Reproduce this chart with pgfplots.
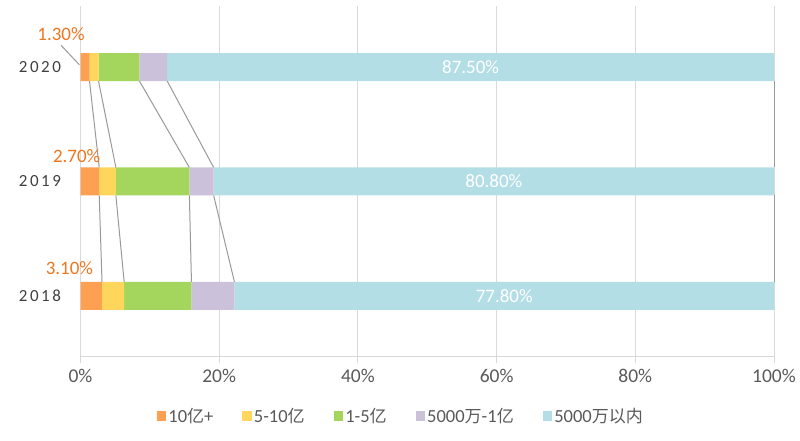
\documentclass[border=0pt]{standalone}
\usepackage{pgfplots}
\pgfplotsset{compat=1.18}
\usepackage{fontspec}
\setmainfont{Carlito}
\newfontfamily\cjk[Scale=0.92]{Noto Sans CJK SC}
\newfontfamily\yfont[LetterSpace=15]{Carlito}
\definecolor{c1}{HTML}{FDA052}
\definecolor{c2}{HTML}{FFD65C}
\definecolor{c3}{HTML}{A4D55C}
\definecolor{c4}{HTML}{CBC1DB}
\definecolor{c5}{HTML}{B4DEE6}
\definecolor{lab}{HTML}{EE7720}
\definecolor{gridc}{HTML}{D9D9D9}
\definecolor{txt}{HTML}{595959}
\definecolor{sl}{HTML}{999999}
\begin{document}
\begin{tikzpicture}
\begin{axis}[
  at={(80.5pt,84pt)}, anchor=south west,
  scale only axis, width=693.5pt, height=351pt,
  xbar stacked, bar width=28pt,
  xmin=0, xmax=100, ymin=-0.533, ymax=2.533,
  ytick={0,1,2}, yticklabels={2018,2019,2020},
  xtick={0,20,...,100},
  xticklabel={\pgfmathprintnumber{\tick}\%},
  /pgf/number format/assume math mode=true,
  xticklabel style={font=\fontsize{19.5}{22}\selectfont, text=txt, yshift=-3pt},
  yticklabel style={font=\yfont\fontsize{17}{20}\selectfont, text=black!75, xshift=-10pt},
  axis x line*=bottom, axis y line*=left,
  x axis line style={gridc, line width=1pt, -},
  y axis line style={draw=none},
  xmajorgrids, grid style={gridc, line width=1pt},
  x tick style={gridc, line width=1pt},
  y tick style={draw=none},
  tick align=outside, major tick length=6pt,
  legend columns=5,
  legend style={at={(0.462,-0.168)}, anchor=center, draw=none, fill=none,
    font=\fontsize{18.5}{21}\selectfont, text=txt,
    /tikz/every even column/.append style={column sep=27pt}},
  legend image code/.code={\fill[#1] (0pt,-4.75pt) rectangle (9.5pt,4.75pt);},
]
\addplot[fill=c1, draw=none] coordinates {(3.1,0) (2.7,1) (1.3,2)};
\addlegendentry{10{\cjk 亿}+}
\addplot[fill=c2, draw=none] coordinates {(3.2,0) (2.4,1) (1.3,2)};
\addlegendentry{5-10{\cjk 亿}}
\addplot[fill=c3, draw=none] coordinates {(9.7,0) (10.6,1) (5.9,2)};
\addlegendentry{1-5{\cjk 亿}}
\addplot[fill=c4, draw=none] coordinates {(6.2,0) (3.5,1) (4.0,2)};
\addlegendentry{5000{\cjk 万}-1{\cjk 亿}}
\addplot[fill=c5, draw=none] coordinates {(77.8,0) (80.8,1) (87.5,2)};
\addlegendentry{5000{\cjk 万以内}}
\end{axis}
\begin{axis}[
  at={(80.5pt,84pt)}, anchor=south west,
  scale only axis, width=693.5pt, height=351pt,
  xmin=0, xmax=100, ymin=-0.533, ymax=2.533,
  hide axis, clip=false,
]
% series lines (cumulative ends), 2020 -> 2019
\addplot[sl, line width=1pt] coordinates {(1.3,1.8777) (2.7,1.1223)};
\addplot[sl, line width=1pt] coordinates {(2.6,1.8777) (5.1,1.1223)};
\addplot[sl, line width=1pt] coordinates {(8.5,1.8777) (15.7,1.1223)};
\addplot[sl, line width=1pt] coordinates {(12.5,1.8777) (19.2,1.1223)};
\addplot[sl, line width=1pt] coordinates {(100,1.8777) (100,1.1223)};
% 2019 -> 2018
\addplot[sl, line width=1pt] coordinates {(2.7,0.8777) (3.1,0.1223)};
\addplot[sl, line width=1pt] coordinates {(5.1,0.8777) (6.3,0.1223)};
\addplot[sl, line width=1pt] coordinates {(15.7,0.8777) (16.0,0.1223)};
\addplot[sl, line width=1pt] coordinates {(19.2,0.8777) (22.2,0.1223)};
\addplot[sl, line width=1pt] coordinates {(100,0.8777) (100,0.1223)};
% data labels
\node[text=lab, font=\fontsize{19}{20}\selectfont] at (axis cs:-2.81,2.288) {1.30\%};
\node[text=lab, font=\fontsize{19}{20}\selectfont] at (axis cs:-0.55,1.218) {2.70\%};
\node[text=lab, font=\fontsize{19}{20}\selectfont] at (axis cs:-1.6,0.245) {3.10\%};
\draw[sl, line width=1pt] (axis cs:-2.81,2.19) -- (axis cs:-0.17,2.02);
\node[text=white, font=\fontsize{19}{20}\selectfont] at (axis cs:56.25,2) {87.50\%};
\node[text=white, font=\fontsize{19}{20}\selectfont] at (axis cs:59.6,1) {80.80\%};
\node[text=white, font=\fontsize{19}{20}\selectfont] at (axis cs:61.1,0) {77.80\%};
\end{axis}
\pgfresetboundingbox
\useasboundingbox (0,0) rectangle (800pt,441pt);
\end{tikzpicture}
\end{document}
